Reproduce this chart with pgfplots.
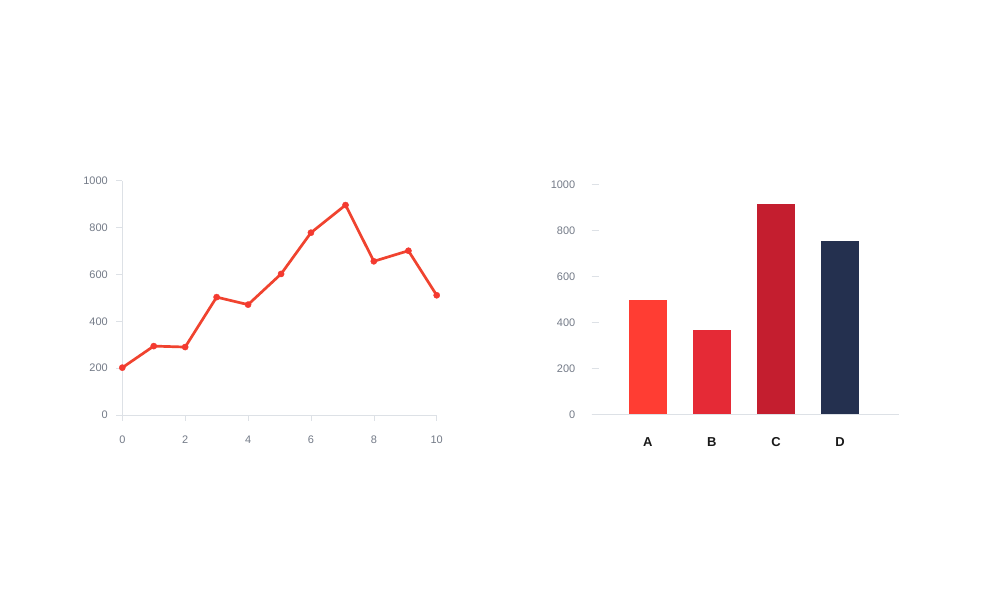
\documentclass[border=0pt]{standalone}
\usepackage{pgfplots}
\pgfplotsset{compat=1.18}
\usepackage{fontspec}
\setmainfont{Liberation Sans}
\definecolor{axisgrey}{HTML}{DDE1E6}
\definecolor{labgrey}{HTML}{747B88}
\definecolor{linered}{HTML}{F0432F}
\definecolor{ptred}{HTML}{F43A30}
\definecolor{barA}{HTML}{FF3D33}
\definecolor{barB}{HTML}{E52A36}
\definecolor{barC}{HTML}{C41E2F}
\definecolor{barD}{HTML}{24304F}
\begin{document}
\begin{tikzpicture}[x=1bp,y=1bp]
\path[use as bounding box,fill=white] (0,0) rectangle (1000,600);
% left line chart
\begin{axis}[
  at={(122.3bp,185bp)}, anchor=south west,
  scale only axis, width=314.4bp, height=234.3bp,
  xmin=0, xmax=10, ymin=0, ymax=1000,
  axis x line*=bottom, axis y line*=left,
  axis line style={draw=axisgrey, line width=0.8pt, -},
  xtick={0,2,4,6,8,10}, ytick={0,200,400,600,800,1000},
  tick style={draw=axisgrey, line width=0.6pt},
  xtick align=outside, ytick align=outside,
  major tick length=6bp,
  tick label style={font=\fontsize{11}{13}\selectfont, text=labgrey},
  xticklabel style={yshift=-11bp},
  yticklabel style={xshift=-5bp},
  /pgf/number format/assume math mode=true,
  /pgf/number format/1000 sep={},
  clip=false,
]
\addplot[color=linered, line width=2.7bp, line join=round, mark=*, mark size=3.1bp,
  mark options={fill=ptred, draw=ptred, line width=0.4pt}] coordinates {
 (0,202) (1,294) (2,290) (3,503) (4,471) (5.05,602) (6,778) (7.1,896) (8,656) (9.1,701) (10,511)
};
\end{axis}
% right bar chart
\begin{axis}[
  at={(591.7bp,185.7bp)}, anchor=south west,
  scale only axis, width=307.3bp, height=230bp,
  xmin=-0.875, xmax=3.92, ymin=0, ymax=1000,
  axis x line*=bottom, axis y line*=left,
  x axis line style={draw=axisgrey, line width=0.8pt, -},
  y axis line style={draw=none},
  xtick={0,1,2,3}, xticklabels={A,B,C,D},
  xtick style={draw=none},
  ytick={0,200,400,600,800,1000},
  ytick style={draw=axisgrey, line width=0.6pt},
  ytick align=inside, major tick length=7bp,
  yticklabel style={font=\fontsize{11}{13}\selectfont, text=labgrey, xshift=-13bp},
  xticklabel style={font=\fontsize{13}{15}\selectfont\bfseries, text=black!90, yshift=-20bp},
  /pgf/number format/assume math mode=true,
  /pgf/number format/1000 sep={},
  clip=false,
]
\addplot[ybar, bar width=38bp, draw=none, fill=barA] coordinates {(0,497)};
\addplot[ybar, bar width=38bp, draw=none, fill=barB] coordinates {(1,365)};
\addplot[ybar, bar width=38bp, draw=none, fill=barC] coordinates {(2,914)};
\addplot[ybar, bar width=38bp, draw=none, fill=barD] coordinates {(3,752)};
\end{axis}
\end{tikzpicture}
\end{document}
